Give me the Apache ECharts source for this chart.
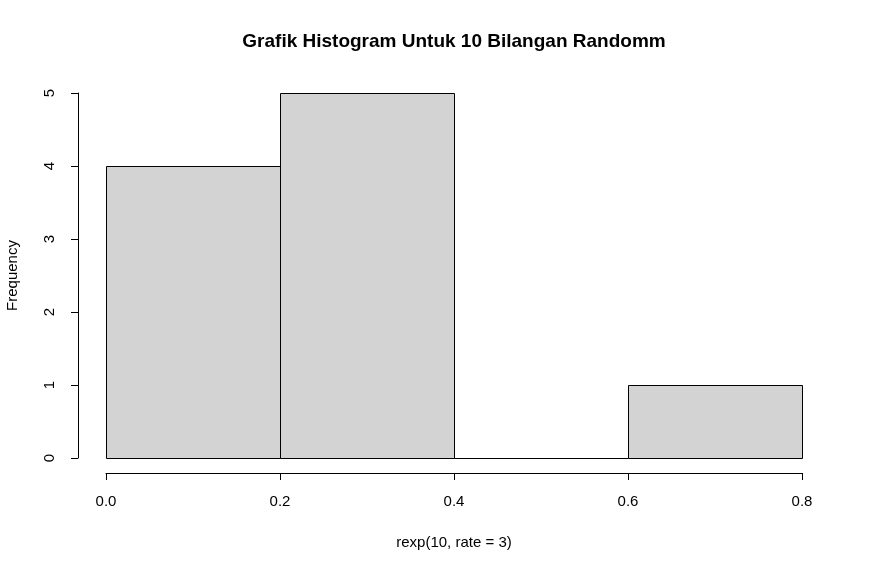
<!DOCTYPE html>
<html>
<head>
<meta charset="utf-8">
<script src="https://cdn.jsdelivr.net/npm/echarts@6/dist/echarts.min.js"></script>
<style>
html,body{margin:0;padding:0;background:#fff;}
#chart{width:871px;height:571px;}
</style>
</head>
<body>
<div id="chart"></div>
<script>
var binStarts = [0.0, 0.2, 0.4, 0.6];
var binEnds = [0.2, 0.4, 0.6, 0.8];
var counts = [4, 5, 0, 1];
var xTicks = [0.0, 0.2, 0.4, 0.6, 0.8];
var yTicks = [0, 1, 2, 3, 4, 5];
var titleText = 'Grafik Histogram Untuk 10 Bilangan Randomm';
var xLabel = 'rexp(10, rate = 3)';
var yLabel = 'Frequency';

var data = binStarts.map(function (s, i) { return [s, binEnds[i], counts[i]]; });
var font = 'Liberation Sans, Arial, sans-serif';

var chart = echarts.init(document.getElementById('chart'), null, {renderer: 'canvas'});
chart.setOption({
  animation: false,
  backgroundColor: '#ffffff',
  title: {
    text: titleText,
    left: 449,
    top: 27,
    textAlign: 'center',
    textStyle: {fontFamily: font, fontWeight: 'bold', fontSize: 19, color: '#000'}
  },
  grid: {left: 106, right: 69, top: 93, bottom: 113, containLabel: false, outerBoundsMode: 'none'},
  xAxis: {
    type: 'value',
    min: xTicks[0],
    max: xTicks[xTicks.length - 1],
    interval: 0.2,
    offset: 15,
    name: xLabel,
    nameLocation: 'middle',
    nameGap: 62,
    nameTextStyle: {fontFamily: font, fontSize: 15, color: '#000'},
    axisLine: {show: true, onZero: false, lineStyle: {color: '#000', width: 1}},
    axisTick: {show: true, length: 7, lineStyle: {color: '#000'}},
    axisLabel: {margin: 21, fontFamily: font, fontSize: 15, color: '#000',
      formatter: function (v) { return v.toFixed(1); }},
    splitLine: {show: false}
  },
  yAxis: {
    type: 'value',
    min: yTicks[0],
    max: yTicks[yTicks.length - 1],
    interval: 1,
    offset: 28,
    name: yLabel,
    nameLocation: 'middle',
    nameGap: 58,
    nameRotate: 90,
    nameTextStyle: {fontFamily: font, fontSize: 15, color: '#000'},
    axisLine: {show: true, onZero: false, lineStyle: {color: '#000', width: 1}},
    axisTick: {show: true, length: 7, lineStyle: {color: '#000'}},
    axisLabel: {margin: 21, rotate: 90, fontFamily: font, fontSize: 15, color: '#000'},
    splitLine: {show: false}
  },
  series: [{
    type: 'custom',
    data: data,
    encode: {x: [0, 1], y: 2},
    renderItem: function (params, api) {
      var p0 = api.coord([api.value(0), api.value(2)]);
      var p1 = api.coord([api.value(1), 0]);
      return {
        type: 'rect',
        shape: {x: Math.round(p0[0]) + 0.5, y: Math.round(p0[1]) + 0.5,
                width: Math.round(p1[0] - p0[0]), height: Math.round(p1[1] - p0[1])},
        style: {fill: '#d3d3d3', stroke: '#000', lineWidth: 1}
      };
    }
  }]
});
</script>
</body>
</html>
